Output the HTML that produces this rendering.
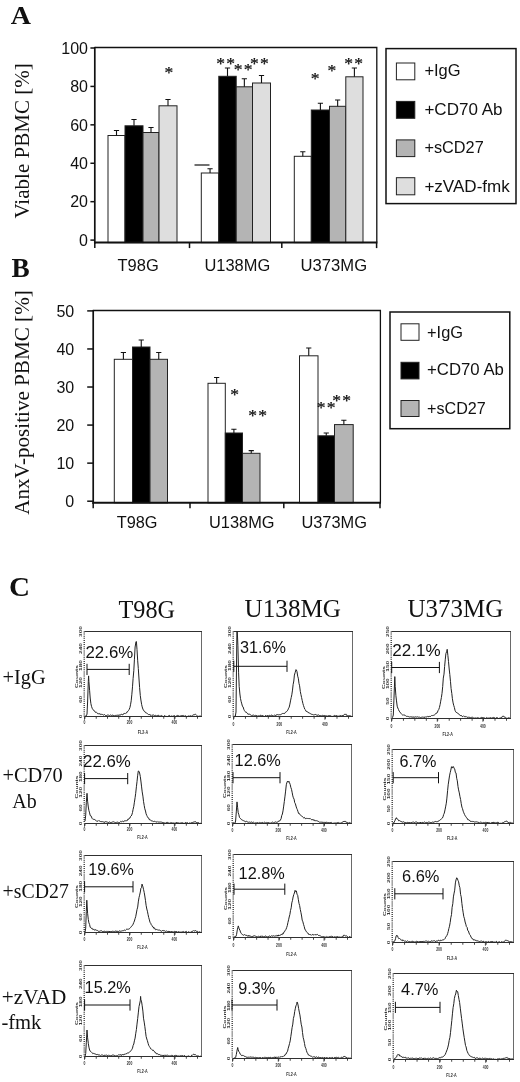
<!DOCTYPE html>
<html lang="en">
<head>
<meta charset="utf-8">
<title>Figure: CD70 / CD27 PBMC viability</title>
<style>
html,body{margin:0;padding:0;background:#fff;}
body{width:520px;height:1082px;overflow:hidden;}
svg{display:block;}
.sa{font-family:'Liberation Sans', Arial, sans-serif;fill:#111;}
.se{font-family:'Liberation Serif', 'Times New Roman', serif;fill:#111;}
.ti{font-family:'Liberation Sans', Arial, sans-serif;font-size:4.3px;font-weight:bold;fill:#333;}
.tx{font-family:'Liberation Sans', Arial, sans-serif;font-size:5.4px;font-weight:bold;fill:#333;}
</style>
</head>
<body>
<svg width="520" height="1082" viewBox="0 0 520 1082">
<rect width="520" height="1082" fill="#fff"/>
<path d="M94.8 47.5H376.8V242.6" fill="none" stroke="#111" stroke-width="1.3"/>
<rect x="108.00" y="135.50" width="17.00" height="107.10" fill="#ffffff" stroke="#222" stroke-width="1"/>
<path d="M116.50 135.50V130.50M113.90 130.50H119.10" stroke="#111" stroke-width="1.1" fill="none"/>
<rect x="125.00" y="125.80" width="18.00" height="116.80" fill="#000000" stroke="#222" stroke-width="1"/>
<path d="M134.00 125.80V119.50M131.40 119.50H136.60" stroke="#111" stroke-width="1.1" fill="none"/>
<rect x="143.00" y="132.50" width="16.00" height="110.10" fill="#b4b4b4" stroke="#222" stroke-width="1"/>
<path d="M151.00 132.50V127.50M148.40 127.50H153.60" stroke="#111" stroke-width="1.1" fill="none"/>
<rect x="159.00" y="105.80" width="18.00" height="136.80" fill="#dedede" stroke="#222" stroke-width="1"/>
<path d="M168.00 105.80V99.50M165.40 99.50H170.60" stroke="#111" stroke-width="1.1" fill="none"/>
<rect x="201.30" y="173.00" width="17.50" height="69.60" fill="#ffffff" stroke="#222" stroke-width="1"/>
<path d="M210.05 173.00V168.80M207.45 168.80H212.65" stroke="#111" stroke-width="1.1" fill="none"/>
<rect x="218.80" y="76.30" width="17.40" height="166.30" fill="#000000" stroke="#222" stroke-width="1"/>
<path d="M227.50 76.30V68.00M224.90 68.00H230.10" stroke="#111" stroke-width="1.1" fill="none"/>
<rect x="236.20" y="86.80" width="16.30" height="155.80" fill="#b4b4b4" stroke="#222" stroke-width="1"/>
<path d="M244.35 86.80V78.80M241.75 78.80H246.95" stroke="#111" stroke-width="1.1" fill="none"/>
<rect x="252.50" y="83.00" width="18.00" height="159.60" fill="#dedede" stroke="#222" stroke-width="1"/>
<path d="M261.50 83.00V75.50M258.90 75.50H264.10" stroke="#111" stroke-width="1.1" fill="none"/>
<rect x="294.30" y="156.30" width="17.00" height="86.30" fill="#ffffff" stroke="#222" stroke-width="1"/>
<path d="M302.80 156.30V151.80M300.20 151.80H305.40" stroke="#111" stroke-width="1.1" fill="none"/>
<rect x="311.30" y="110.00" width="18.20" height="132.60" fill="#000000" stroke="#222" stroke-width="1"/>
<path d="M320.40 110.00V103.30M317.80 103.30H323.00" stroke="#111" stroke-width="1.1" fill="none"/>
<rect x="329.50" y="106.30" width="16.30" height="136.30" fill="#b4b4b4" stroke="#222" stroke-width="1"/>
<path d="M337.65 106.30V100.00M335.05 100.00H340.25" stroke="#111" stroke-width="1.1" fill="none"/>
<rect x="345.80" y="76.80" width="17.20" height="165.80" fill="#dedede" stroke="#222" stroke-width="1"/>
<path d="M354.40 76.80V68.00M351.80 68.00H357.00" stroke="#111" stroke-width="1.1" fill="none"/>
<path d="M94.8 46.9V243.6" stroke="#111" stroke-width="1.7" fill="none"/>
<path d="M94.0 242.6H377.40000000000003" stroke="#111" stroke-width="2" fill="none"/>
<path d="M90.4 48.00H94.8" stroke="#111" stroke-width="1.5"/>
<text class="sa" x="88.0" y="53.7" font-size="16" text-anchor="end">100</text>
<path d="M90.4 86.42H94.8" stroke="#111" stroke-width="1.5"/>
<text class="sa" x="88.0" y="92.1" font-size="16" text-anchor="end">80</text>
<path d="M90.4 124.84H94.8" stroke="#111" stroke-width="1.5"/>
<text class="sa" x="88.0" y="130.5" font-size="16" text-anchor="end">60</text>
<path d="M90.4 163.26H94.8" stroke="#111" stroke-width="1.5"/>
<text class="sa" x="88.0" y="169.0" font-size="16" text-anchor="end">40</text>
<path d="M90.4 201.68H94.8" stroke="#111" stroke-width="1.5"/>
<text class="sa" x="88.0" y="207.4" font-size="16" text-anchor="end">20</text>
<path d="M90.4 240.10H94.8" stroke="#111" stroke-width="1.5"/>
<text class="sa" x="88.0" y="245.8" font-size="16" text-anchor="end">0</text>
<path d="M94.8 242.6V248.1" stroke="#111" stroke-width="1.5"/>
<path d="M189.5 242.6V248.1" stroke="#111" stroke-width="1.5"/>
<path d="M281.8 242.6V248.1" stroke="#111" stroke-width="1.5"/>
<path d="M376.6 242.6V248.1" stroke="#111" stroke-width="1.5"/>
<text class="sa" x="117.5" y="270.9" font-size="16" textLength="41.2" lengthAdjust="spacingAndGlyphs">T98G</text>
<text class="sa" x="204.5" y="270.9" font-size="16" textLength="65.7" lengthAdjust="spacingAndGlyphs">U138MG</text>
<text class="sa" x="300.6" y="270.9" font-size="16" textLength="66.5" lengthAdjust="spacingAndGlyphs">U373MG</text>
<text class="se" x="168.8" y="77.7" font-size="17.5" text-anchor="middle" stroke="#111" stroke-width="0.25">*</text>
<text class="se" x="226.3" y="68.9" font-size="17.5" text-anchor="middle" letter-spacing="1.3" stroke="#111" stroke-width="0.25">**</text>
<text class="se" x="243.7" y="74.9" font-size="17.5" text-anchor="middle" letter-spacing="1.3" stroke="#111" stroke-width="0.25">**</text>
<text class="se" x="260.0" y="68.9" font-size="17.5" text-anchor="middle" letter-spacing="1.3" stroke="#111" stroke-width="0.25">**</text>
<text class="se" x="315.0" y="84.4" font-size="17.5" text-anchor="middle" stroke="#111" stroke-width="0.25">*</text>
<text class="se" x="331.8" y="76.4" font-size="17.5" text-anchor="middle" stroke="#111" stroke-width="0.25">*</text>
<text class="se" x="354.2" y="68.9" font-size="17.5" text-anchor="middle" letter-spacing="1.3" stroke="#111" stroke-width="0.25">**</text>
<path d="M194.5 165H209.5" stroke="#111" stroke-width="1.2"/>
<path d="M93.2 310.5H380.4V502.8" fill="none" stroke="#111" stroke-width="1.3"/>
<rect x="114.30" y="359.30" width="18.20" height="143.50" fill="#ffffff" stroke="#222" stroke-width="1"/>
<path d="M123.40 359.30V352.50M120.80 352.50H126.00" stroke="#111" stroke-width="1.1" fill="none"/>
<rect x="132.50" y="347.00" width="17.50" height="155.80" fill="#000000" stroke="#222" stroke-width="1"/>
<path d="M141.25 347.00V340.00M138.65 340.00H143.85" stroke="#111" stroke-width="1.1" fill="none"/>
<rect x="150.00" y="359.30" width="17.50" height="143.50" fill="#b4b4b4" stroke="#222" stroke-width="1"/>
<path d="M158.75 359.30V352.50M156.15 352.50H161.35" stroke="#111" stroke-width="1.1" fill="none"/>
<rect x="208.00" y="383.30" width="17.30" height="119.50" fill="#ffffff" stroke="#222" stroke-width="1"/>
<path d="M216.65 383.30V377.50M214.05 377.50H219.25" stroke="#111" stroke-width="1.1" fill="none"/>
<rect x="225.30" y="433.00" width="17.20" height="69.80" fill="#000000" stroke="#222" stroke-width="1"/>
<path d="M233.90 433.00V429.30M231.30 429.30H236.50" stroke="#111" stroke-width="1.1" fill="none"/>
<rect x="242.50" y="453.30" width="17.50" height="49.50" fill="#b4b4b4" stroke="#222" stroke-width="1"/>
<path d="M251.25 453.30V450.60M248.65 450.60H253.85" stroke="#111" stroke-width="1.1" fill="none"/>
<rect x="299.50" y="355.80" width="18.50" height="147.00" fill="#ffffff" stroke="#222" stroke-width="1"/>
<path d="M308.75 355.80V348.00M306.15 348.00H311.35" stroke="#111" stroke-width="1.1" fill="none"/>
<rect x="318.00" y="435.80" width="16.50" height="67.00" fill="#000000" stroke="#222" stroke-width="1"/>
<path d="M326.25 435.80V433.00M323.65 433.00H328.85" stroke="#111" stroke-width="1.1" fill="none"/>
<rect x="334.50" y="424.60" width="18.70" height="78.20" fill="#b4b4b4" stroke="#222" stroke-width="1"/>
<path d="M343.85 424.60V420.20M341.25 420.20H346.45" stroke="#111" stroke-width="1.1" fill="none"/>
<path d="M93.2 309.9V503.8" stroke="#111" stroke-width="1.7" fill="none"/>
<path d="M92.4 502.8H381.0" stroke="#111" stroke-width="2" fill="none"/>
<path d="M87.2 310.90H93.2" stroke="#111" stroke-width="1.5"/>
<text class="sa" x="74.2" y="316.6" font-size="16" text-anchor="end">50</text>
<path d="M87.2 348.96H93.2" stroke="#111" stroke-width="1.5"/>
<text class="sa" x="74.2" y="354.7" font-size="16" text-anchor="end">40</text>
<path d="M87.2 387.02H93.2" stroke="#111" stroke-width="1.5"/>
<text class="sa" x="74.2" y="392.7" font-size="16" text-anchor="end">30</text>
<path d="M87.2 425.08H93.2" stroke="#111" stroke-width="1.5"/>
<text class="sa" x="74.2" y="430.8" font-size="16" text-anchor="end">20</text>
<path d="M87.2 463.14H93.2" stroke="#111" stroke-width="1.5"/>
<text class="sa" x="74.2" y="468.8" font-size="16" text-anchor="end">10</text>
<path d="M87.2 501.20H93.2" stroke="#111" stroke-width="1.5"/>
<text class="sa" x="74.2" y="506.9" font-size="16" text-anchor="end">0</text>
<path d="M93.2 502.8V508.3" stroke="#111" stroke-width="1.5"/>
<path d="M190 502.8V508.3" stroke="#111" stroke-width="1.5"/>
<path d="M283.8 502.8V508.3" stroke="#111" stroke-width="1.5"/>
<path d="M380 502.8V508.3" stroke="#111" stroke-width="1.5"/>
<text class="sa" x="116.7" y="527.9" font-size="16" textLength="40.7" lengthAdjust="spacingAndGlyphs">T98G</text>
<text class="sa" x="209.0" y="527.9" font-size="16" textLength="65.5" lengthAdjust="spacingAndGlyphs">U138MG</text>
<text class="sa" x="301.4" y="527.9" font-size="16" textLength="65.6" lengthAdjust="spacingAndGlyphs">U373MG</text>
<text class="se" x="234.5" y="399.9" font-size="17.5" text-anchor="middle" stroke="#111" stroke-width="0.25">*</text>
<text class="se" x="258.2" y="421.2" font-size="17.5" text-anchor="middle" letter-spacing="1.3" stroke="#111" stroke-width="0.25">**</text>
<text class="se" x="326.7" y="412.7" font-size="17.5" text-anchor="middle" letter-spacing="1.3" stroke="#111" stroke-width="0.25">**</text>
<text class="se" x="342.2" y="406.2" font-size="17.5" text-anchor="middle" letter-spacing="1.3" stroke="#111" stroke-width="0.25">**</text>
<text class="se" x="10.8" y="24.2" font-size="26" font-weight="bold" textLength="20.2" lengthAdjust="spacingAndGlyphs">A</text>
<text class="se" x="11.6" y="277.0" font-size="27" font-weight="bold" textLength="18.2" lengthAdjust="spacingAndGlyphs">B</text>
<text class="se" x="9.0" y="595.9" font-size="28" font-weight="bold" textLength="21.0" lengthAdjust="spacingAndGlyphs">C</text>
<text class="se" font-size="21" transform="translate(28.9,218.6) rotate(-90)" textLength="155.4" lengthAdjust="spacingAndGlyphs">Viable PBMC [%]</text>
<text class="se" font-size="21" transform="translate(28.6,514.8) rotate(-90)" textLength="224.6" lengthAdjust="spacingAndGlyphs">AnxV-positive PBMC [%]</text>
<rect x="386" y="48.6" width="130" height="155.0" fill="#fff" stroke="#111" stroke-width="1.5"/>
<rect x="396.4" y="63" width="18.4" height="16.8" fill="#ffffff" stroke="#222" stroke-width="1"/>
<text class="sa" x="424.4" y="76.3" font-size="16.5" textLength="36.2" lengthAdjust="spacingAndGlyphs">+IgG</text>
<rect x="396.4" y="101.4" width="18.4" height="16.9" fill="#000000" stroke="#222" stroke-width="1"/>
<text class="sa" x="424.4" y="114.8" font-size="16.5" textLength="78.1" lengthAdjust="spacingAndGlyphs">+CD70 Ab</text>
<rect x="396.4" y="139.9" width="18.4" height="16.7" fill="#b4b4b4" stroke="#222" stroke-width="1"/>
<text class="sa" x="424.4" y="153.3" font-size="16.5" textLength="59.3" lengthAdjust="spacingAndGlyphs">+sCD27</text>
<rect x="396.4" y="177.7" width="18.4" height="17.1" fill="#dedede" stroke="#222" stroke-width="1"/>
<text class="sa" x="424.4" y="191.5" font-size="16.5" textLength="85.4" lengthAdjust="spacingAndGlyphs">+zVAD-fmk</text>
<rect x="390" y="312" width="119.80000000000001" height="116.69999999999999" fill="#fff" stroke="#111" stroke-width="1.5"/>
<rect x="401" y="323.8" width="18" height="16.5" fill="#ffffff" stroke="#222" stroke-width="1"/>
<text class="sa" x="427.0" y="338.0" font-size="16.5" textLength="36.0" lengthAdjust="spacingAndGlyphs">+IgG</text>
<rect x="401" y="362.3" width="18" height="16.6" fill="#000000" stroke="#222" stroke-width="1"/>
<text class="sa" x="427.0" y="375.4" font-size="16.5" textLength="76.9" lengthAdjust="spacingAndGlyphs">+CD70 Ab</text>
<rect x="401" y="400.5" width="18" height="16.0" fill="#b4b4b4" stroke="#222" stroke-width="1"/>
<text class="sa" x="427.0" y="413.9" font-size="16.5" textLength="58.8" lengthAdjust="spacingAndGlyphs">+sCD27</text>
<text class="se" x="118.5" y="617.6" font-size="24.6" textLength="56.5" lengthAdjust="spacingAndGlyphs">T98G</text>
<text class="se" x="244.6" y="616.9" font-size="24.6" textLength="96.4" lengthAdjust="spacingAndGlyphs">U138MG</text>
<text class="se" x="407.6" y="616.9" font-size="24.6" textLength="95.6" lengthAdjust="spacingAndGlyphs">U373MG</text>
<text class="se" x="2.6" y="683.5" font-size="20.5" textLength="43.2" lengthAdjust="spacingAndGlyphs">+IgG</text>
<text class="se" x="2.6" y="782.3" font-size="20.5" textLength="60.0" lengthAdjust="spacingAndGlyphs">+CD70</text>
<text class="se" x="12.3" y="808.3" font-size="20.5" textLength="24.4" lengthAdjust="spacingAndGlyphs">Ab</text>
<text class="se" x="2.6" y="897.7" font-size="20.5" textLength="66.2" lengthAdjust="spacingAndGlyphs">+sCD27</text>
<text class="se" x="1.8" y="1004.2" font-size="20.5" textLength="64.6" lengthAdjust="spacingAndGlyphs">+zVAD</text>
<text class="se" x="1.4" y="1029.2" font-size="20.5" textLength="40.0" lengthAdjust="spacingAndGlyphs">-fmk</text>
<path d="M201.5 631.5V716.5" fill="none" stroke="#6a6a6a" stroke-width="1"/>
<path d="M84.5 631.5H202.0M84.5 716.5H202.0" fill="none" stroke="#303030" stroke-width="1"/>
<path d="M84.2 631.5V716.5" stroke="#2a2a2a" stroke-width="1.3" stroke-dasharray="1 1.1" fill="none"/>
<path d="M84.5 717.7H201.5" stroke="#333" stroke-width="2" stroke-dasharray="0.9 10.36" fill="none"/>
<path d="M85.0 716.0 L85.7 716.1 L86.3 715.8 L87.0 714.1 L87.6 702.0 L88.3 681.6 L88.6 675.9 L88.9 681.6 L89.6 690.3 L90.2 698.0 L90.9 703.7 L91.5 706.3 L92.2 708.3 L92.8 709.5 L93.5 709.9 L94.1 710.9 L94.8 711.4 L95.4 712.4 L96.1 711.8 L96.7 712.5 L97.4 713.5 L98.0 714.0 L98.7 713.7 L99.3 713.9 L100.0 713.5 L100.6 714.6 L101.3 714.3 L101.9 714.5 L102.6 714.5 L103.2 715.0 L103.9 715.0 L104.5 714.5 L105.2 715.3 L105.8 715.6 L106.5 715.5 L107.1 715.2 L107.8 715.0 L108.4 715.1 L109.1 715.4 L109.7 715.6 L110.4 715.0 L111.0 715.0 L111.7 715.6 L112.3 715.3 L113.0 714.9 L113.6 715.8 L114.3 715.6 L114.9 716.0 L115.6 715.3 L116.2 715.3 L116.9 715.4 L117.5 715.3 L118.2 714.8 L118.8 715.7 L119.5 714.7 L120.1 715.4 L120.8 714.4 L121.4 714.3 L122.1 714.5 L122.7 715.0 L123.4 713.8 L124.0 713.8 L124.7 713.4 L125.3 713.6 L126.0 712.8 L126.6 713.0 L127.3 711.5 L127.9 711.4 L128.6 710.4 L129.2 709.4 L129.9 707.6 L130.5 704.8 L131.2 700.8 L131.8 694.8 L132.5 686.8 L133.1 678.5 L133.8 670.7 L134.4 659.8 L135.1 647.0 L136.0 641.6 L136.4 641.6 L137.0 649.5 L137.7 660.8 L138.3 668.5 L139.0 679.0 L139.6 687.5 L140.3 695.6 L140.9 700.0 L141.6 704.3 L142.2 706.9 L142.9 709.1 L143.5 710.2 L144.2 711.3 L144.8 711.4 L145.5 712.7 L146.1 713.0 L146.8 713.1 L147.4 713.6 L148.1 714.1 L148.7 714.7 L149.4 714.6 L150.0 714.3 L150.7 715.5 L151.3 714.9 L152.0 715.6 L152.6 715.1 L153.3 714.9 L153.9 715.3 L154.6 715.6 L155.2 715.1 L155.9 715.8 L156.5 715.9 L157.2 715.7 L157.8 715.3 L158.5 715.2 L159.1 716.2 L159.8 716.1 L160.4 716.0 L161.1 715.9 L161.7 715.5 L162.4 715.9 L163.0 716.5 L163.7 716.5 L164.3 715.8 L165.0 715.6 L165.6 716.4 L166.3 716.5 L166.9 716.3 L167.6 716.5 L168.2 716.0 L168.9 715.8 L169.5 715.4 L170.2 716.4 L170.8 716.4 L171.5 716.0 L172.1 716.4 L172.8 716.2 L173.4 716.0 L174.1 715.7 L174.7 715.7 L175.4 716.5 L176.0 715.8 L176.7 716.1 L177.3 715.5 L178.0 715.9 L178.6 715.7 L179.3 716.1 L179.9 716.4 L180.6 715.7 L181.2 715.8 L181.9 715.6 L182.5 715.5 L183.2 715.7 L183.8 715.6 L184.5 716.2 L185.1 716.1 L185.8 715.7 L186.4 716.6 L187.1 716.6 L187.7 716.4 L188.4 715.7 L189.0 716.5 L189.7 715.8 L190.3 715.8 L191.0 715.9 L191.6 716.3 L192.3 715.5 L192.9 714.9 L193.6 714.8 L194.2 714.5 L194.9 714.8 L195.5 714.3 L196.2 714.8 L196.8 715.5 L197.5 716.2 L198.1 716.0 L198.8 716.6 L199.4 716.0 L200.1 715.7 L200.7 716.1" fill="none" stroke="#222" stroke-width="1" stroke-linejoin="round"/>
<path d="M87.0 669.4H129.2M87.0 663.8V675.0M129.2 663.8V675.0" stroke="#111" stroke-width="1" fill="none"/>
<text class="sa" x="85.5" y="658.3" font-size="17" textLength="47.7" lengthAdjust="spacingAndGlyphs">22.6%</text>
<text class="ti" transform="translate(81.8,718.3) rotate(-90)" textLength="3.6" lengthAdjust="spacingAndGlyphs">0</text>
<text class="ti" transform="translate(81.8,703.1) rotate(-90)" textLength="7.2" lengthAdjust="spacingAndGlyphs">60</text>
<text class="ti" transform="translate(81.8,687.9) rotate(-90)" textLength="10.8" lengthAdjust="spacingAndGlyphs">120</text>
<text class="ti" transform="translate(81.8,670.9) rotate(-90)" textLength="10.8" lengthAdjust="spacingAndGlyphs">180</text>
<text class="ti" transform="translate(81.8,653.9) rotate(-90)" textLength="10.8" lengthAdjust="spacingAndGlyphs">240</text>
<text class="ti" transform="translate(81.8,636.9) rotate(-90)" textLength="10.8" lengthAdjust="spacingAndGlyphs">300</text>
<text class="ti" transform="translate(77.9,688.0) rotate(-90)" textLength="23" lengthAdjust="spacingAndGlyphs">Counts</text>
<path d="M84.5 716.5v3.2M129.5 716.5v3.2M174.4 716.5v3.2" stroke="#333" stroke-width="0.9" fill="none"/>
<text class="tx" x="83.5" y="724.0" textLength="1.9" lengthAdjust="spacingAndGlyphs">0</text>
<text class="tx" x="126.7" y="724.0" textLength="5.7" lengthAdjust="spacingAndGlyphs">200</text>
<text class="tx" x="171.5" y="724.0" textLength="5.7" lengthAdjust="spacingAndGlyphs">400</text>
<text class="tx" x="137.8" y="734.2" textLength="10.4" lengthAdjust="spacingAndGlyphs">FL2-A</text>
<path d="M352.5 631.5V716.5" fill="none" stroke="#6a6a6a" stroke-width="1"/>
<path d="M233.5 631.5H353.0M233.5 716.5H353.0" fill="none" stroke="#303030" stroke-width="1"/>
<path d="M233.2 631.5V716.5" stroke="#2a2a2a" stroke-width="1.3" stroke-dasharray="1 1.1" fill="none"/>
<path d="M233.5 717.7H352.5" stroke="#333" stroke-width="2" stroke-dasharray="0.9 10.55" fill="none"/>
<path d="M234.0 715.9 L234.7 716.5 L235.3 716.2 L236.0 712.0 L236.9 631.5 L237.3 631.5 L237.9 645.8 L238.6 672.8 L239.2 686.6 L239.9 694.0 L240.5 698.6 L241.2 701.7 L241.8 703.9 L242.5 706.5 L243.1 706.8 L243.8 709.3 L244.4 710.5 L245.1 711.4 L245.7 712.3 L246.4 712.2 L247.0 713.2 L247.7 713.6 L248.3 714.5 L249.0 713.7 L249.6 714.3 L250.3 715.0 L250.9 714.8 L251.6 715.5 L252.2 715.3 L252.9 715.4 L253.5 715.1 L254.2 715.6 L254.8 715.7 L255.5 715.4 L256.1 715.7 L256.8 715.5 L257.4 716.1 L258.1 715.7 L258.7 715.9 L259.4 716.1 L260.0 715.3 L260.7 715.3 L261.3 715.4 L261.9 716.3 L262.6 715.4 L263.2 716.2 L263.9 716.1 L264.5 716.5 L265.2 715.7 L265.8 715.3 L266.5 716.4 L267.1 715.5 L267.8 715.6 L268.4 715.8 L269.1 715.6 L269.7 715.2 L270.4 716.1 L271.0 715.3 L271.7 715.1 L272.3 715.4 L273.0 715.9 L273.6 715.9 L274.3 715.3 L274.9 715.0 L275.6 715.7 L276.2 714.7 L276.9 715.1 L277.5 714.6 L278.2 715.1 L278.8 714.5 L279.5 714.7 L280.1 714.9 L280.8 714.5 L281.4 714.2 L282.1 713.8 L282.7 713.4 L283.4 713.4 L284.0 714.0 L284.7 713.4 L285.3 712.4 L286.0 712.0 L286.6 711.6 L287.3 710.8 L287.9 709.9 L288.6 708.2 L289.2 707.2 L289.9 704.1 L290.5 700.9 L291.2 697.6 L291.8 694.8 L292.5 690.1 L293.1 684.7 L293.8 681.0 L294.4 675.1 L295.1 672.7 L296.0 669.6 L296.4 670.0 L297.0 671.7 L297.7 676.2 L298.3 678.2 L299.0 683.5 L299.6 685.8 L300.3 691.4 L300.9 694.4 L301.6 697.6 L302.2 700.4 L302.9 703.5 L303.5 705.6 L304.2 707.5 L304.8 709.3 L305.5 709.9 L306.1 711.4 L306.8 711.6 L307.4 711.8 L308.1 712.1 L308.7 713.0 L309.4 713.1 L310.0 713.3 L310.7 713.8 L311.3 714.2 L312.0 714.3 L312.6 714.5 L313.3 714.8 L313.9 714.9 L314.6 714.7 L315.2 714.5 L315.9 714.5 L316.5 714.8 L317.2 715.6 L317.8 714.8 L318.5 714.8 L319.1 715.6 L319.8 715.8 L320.4 715.2 L321.1 715.9 L321.7 715.8 L322.4 715.4 L323.0 715.4 L323.7 715.7 L324.3 715.5 L325.0 715.7 L325.6 715.8 L326.3 715.9 L326.9 715.8 L327.6 716.1 L328.2 715.8 L328.9 715.6 L329.5 715.6 L330.2 716.0 L330.8 715.6 L331.5 716.3 L332.1 716.4 L332.8 716.4 L333.4 716.2 L334.1 715.7 L334.7 715.4 L335.4 715.6 L336.0 716.5 L336.7 715.4 L337.3 716.3 L338.0 716.1 L338.6 716.2 L339.3 716.5 L339.9 715.4 L340.6 715.7 L341.2 716.1 L341.9 715.4 L342.5 715.5 L343.2 715.8 L343.8 714.8 L344.5 714.4 L345.1 714.7 L345.8 713.9 L346.4 715.2 L347.1 715.2 L347.7 715.9 L348.4 715.7 L349.0 715.9 L349.7 715.7 L350.3 716.1 L351.0 715.7 L351.6 716.4" fill="none" stroke="#222" stroke-width="1" stroke-linejoin="round"/>
<path d="M233.8 666.3H287.0M233.8 660.7V671.9M287.0 660.7V671.9" stroke="#111" stroke-width="1" fill="none"/>
<text class="sa" x="240.0" y="652.5" font-size="17" textLength="46.0" lengthAdjust="spacingAndGlyphs">31.6%</text>
<text class="ti" transform="translate(230.8,718.3) rotate(-90)" textLength="3.6" lengthAdjust="spacingAndGlyphs">0</text>
<text class="ti" transform="translate(230.8,703.1) rotate(-90)" textLength="7.2" lengthAdjust="spacingAndGlyphs">60</text>
<text class="ti" transform="translate(230.8,687.9) rotate(-90)" textLength="10.8" lengthAdjust="spacingAndGlyphs">120</text>
<text class="ti" transform="translate(230.8,670.9) rotate(-90)" textLength="10.8" lengthAdjust="spacingAndGlyphs">180</text>
<text class="ti" transform="translate(230.8,653.9) rotate(-90)" textLength="10.8" lengthAdjust="spacingAndGlyphs">240</text>
<text class="ti" transform="translate(230.8,636.9) rotate(-90)" textLength="10.8" lengthAdjust="spacingAndGlyphs">300</text>
<text class="ti" transform="translate(226.9,688.0) rotate(-90)" textLength="23" lengthAdjust="spacingAndGlyphs">Counts</text>
<path d="M233.5 716.5v3.2M279.3 716.5v3.2M324.9 716.5v3.2" stroke="#333" stroke-width="0.9" fill="none"/>
<text class="tx" x="232.6" y="725.7" textLength="1.9" lengthAdjust="spacingAndGlyphs">0</text>
<text class="tx" x="276.5" y="725.7" textLength="5.7" lengthAdjust="spacingAndGlyphs">200</text>
<text class="tx" x="322.0" y="725.7" textLength="5.7" lengthAdjust="spacingAndGlyphs">400</text>
<text class="tx" x="286.3" y="733.5" textLength="10.4" lengthAdjust="spacingAndGlyphs">FL2-A</text>
<path d="M510.5 631.5V718.5" fill="none" stroke="#6a6a6a" stroke-width="1"/>
<path d="M391.5 631.5H511.0M391.5 718.5H511.0" fill="none" stroke="#303030" stroke-width="1"/>
<path d="M391.2 631.5V718.5" stroke="#2a2a2a" stroke-width="1.3" stroke-dasharray="1 1.1" fill="none"/>
<path d="M391.5 719.7H510.5" stroke="#333" stroke-width="2" stroke-dasharray="0.9 10.55" fill="none"/>
<path d="M392.0 717.8 L392.6 717.4 L393.3 715.0 L393.9 700.2 L394.8 676.6 L395.2 686.3 L395.9 695.7 L396.5 700.9 L397.2 706.2 L397.8 708.0 L398.5 709.5 L399.1 711.0 L399.8 711.9 L400.4 712.8 L401.1 713.4 L401.7 714.2 L402.4 714.7 L403.0 715.4 L403.7 714.7 L404.3 715.1 L405.0 715.3 L405.6 715.7 L406.3 716.4 L406.9 716.2 L407.6 716.4 L408.2 716.6 L408.9 716.6 L409.5 717.0 L410.2 717.0 L410.8 716.7 L411.5 717.0 L412.1 716.5 L412.8 717.5 L413.4 716.7 L414.1 717.6 L414.7 716.8 L415.4 716.9 L416.0 716.9 L416.7 717.1 L417.3 716.8 L418.0 717.1 L418.6 717.2 L419.3 717.2 L419.9 717.1 L420.6 717.6 L421.2 717.1 L421.9 717.7 L422.5 717.1 L423.2 717.2 L423.8 717.3 L424.5 717.7 L425.1 716.6 L425.8 717.3 L426.4 716.9 L427.1 717.0 L427.7 716.4 L428.4 716.9 L429.0 716.0 L429.7 716.5 L430.3 716.5 L431.0 716.2 L431.6 715.5 L432.3 715.5 L432.9 715.6 L433.6 715.3 L434.2 715.1 L434.9 714.6 L435.5 714.1 L436.2 713.1 L436.8 713.2 L437.5 712.0 L438.1 710.5 L438.8 709.4 L439.4 707.6 L440.1 704.6 L440.7 701.2 L441.4 697.5 L442.0 693.4 L442.7 686.6 L443.3 678.1 L444.0 674.1 L444.6 666.6 L445.3 659.2 L445.9 653.6 L446.8 651.2 L447.2 649.3 L447.9 655.6 L448.5 661.6 L449.2 669.0 L449.8 674.4 L450.5 681.7 L451.1 688.6 L451.8 693.5 L452.4 698.7 L453.1 702.9 L453.7 705.3 L454.4 707.5 L455.0 710.3 L455.7 711.8 L456.3 712.5 L457.0 712.4 L457.6 713.0 L458.3 714.0 L458.9 714.2 L459.6 714.7 L460.2 715.6 L460.9 715.5 L461.5 715.5 L462.2 716.6 L462.8 716.6 L463.5 715.9 L464.1 716.2 L464.8 716.8 L465.4 716.5 L466.1 717.2 L466.7 716.6 L467.4 717.5 L468.0 717.3 L468.7 717.2 L469.3 717.0 L470.0 717.9 L470.6 717.7 L471.3 717.5 L471.9 717.2 L472.6 717.3 L473.2 717.7 L473.9 718.2 L474.5 718.1 L475.2 718.1 L475.8 717.8 L476.5 718.1 L477.1 717.7 L477.8 717.8 L478.4 717.9 L479.1 718.0 L479.7 718.4 L480.4 718.0 L481.0 717.6 L481.7 717.4 L482.3 717.5 L483.0 717.7 L483.6 717.7 L484.3 718.2 L484.9 717.7 L485.6 718.5 L486.2 717.8 L486.9 717.6 L487.5 718.1 L488.2 718.0 L488.8 718.1 L489.5 718.0 L490.1 718.2 L490.8 717.5 L491.4 718.1 L492.1 718.0 L492.7 717.6 L493.4 717.4 L494.0 718.1 L494.7 717.7 L495.3 718.4 L496.0 718.2 L496.6 717.5 L497.3 717.5 L497.9 718.4 L498.6 718.5 L499.2 718.4 L499.9 718.0 L500.5 718.2 L501.2 717.2 L501.8 717.5 L502.5 716.3 L503.1 716.3 L503.8 716.2 L504.4 717.2 L505.1 717.1 L505.7 717.6 L506.4 718.2 L507.0 718.0 L507.7 718.3 L508.3 717.9 L509.0 717.6 L509.6 717.8" fill="none" stroke="#222" stroke-width="1" stroke-linejoin="round"/>
<path d="M391.7 667.5H439.4M391.7 661.9V673.1M439.4 661.9V673.1" stroke="#111" stroke-width="1" fill="none"/>
<text class="sa" x="392.3" y="655.5" font-size="17" textLength="48.3" lengthAdjust="spacingAndGlyphs">22.1%</text>
<text class="ti" transform="translate(388.8,720.3) rotate(-90)" textLength="3.6" lengthAdjust="spacingAndGlyphs">0</text>
<text class="ti" transform="translate(388.8,704.7) rotate(-90)" textLength="7.2" lengthAdjust="spacingAndGlyphs">50</text>
<text class="ti" transform="translate(388.8,689.1) rotate(-90)" textLength="10.8" lengthAdjust="spacingAndGlyphs">100</text>
<text class="ti" transform="translate(388.8,671.7) rotate(-90)" textLength="10.8" lengthAdjust="spacingAndGlyphs">150</text>
<text class="ti" transform="translate(388.8,654.3) rotate(-90)" textLength="10.8" lengthAdjust="spacingAndGlyphs">200</text>
<text class="ti" transform="translate(388.8,636.9) rotate(-90)" textLength="10.8" lengthAdjust="spacingAndGlyphs">250</text>
<text class="ti" transform="translate(384.9,689.0) rotate(-90)" textLength="23" lengthAdjust="spacingAndGlyphs">Counts</text>
<path d="M391.5 718.5v3.2M437.3 718.5v3.2M482.9 718.5v3.2" stroke="#333" stroke-width="0.9" fill="none"/>
<text class="tx" x="390.6" y="727.5" textLength="1.9" lengthAdjust="spacingAndGlyphs">0</text>
<text class="tx" x="434.5" y="727.5" textLength="5.7" lengthAdjust="spacingAndGlyphs">200</text>
<text class="tx" x="480.0" y="727.5" textLength="5.7" lengthAdjust="spacingAndGlyphs">400</text>
<text class="tx" x="442.5" y="736.0" textLength="10.4" lengthAdjust="spacingAndGlyphs">FL2-A</text>
<path d="M201.5 745.5V823.5" fill="none" stroke="#6a6a6a" stroke-width="1"/>
<path d="M84.5 745.5H202.0M84.5 823.5H202.0" fill="none" stroke="#303030" stroke-width="1"/>
<path d="M84.2 745.5V823.5" stroke="#2a2a2a" stroke-width="1.3" stroke-dasharray="1 1.1" fill="none"/>
<path d="M84.5 824.7H201.5" stroke="#333" stroke-width="2" stroke-dasharray="0.9 10.36" fill="none"/>
<path d="M85.0 821.2 L85.7 815.2 L86.3 802.7 L87.0 793.3 L87.6 801.2 L88.3 807.0 L88.9 810.5 L89.6 812.9 L90.2 815.5 L90.9 815.7 L91.5 817.0 L92.2 818.5 L92.8 819.2 L93.5 819.3 L94.1 819.4 L94.8 819.5 L95.4 820.2 L96.1 820.5 L96.7 821.3 L97.4 821.1 L98.0 821.3 L98.7 820.6 L99.3 820.9 L100.0 821.1 L100.6 821.6 L101.3 821.9 L101.9 821.2 L102.6 821.9 L103.2 822.0 L103.9 822.0 L104.5 822.5 L105.2 821.4 L105.8 822.1 L106.5 821.8 L107.1 822.1 L107.8 822.1 L108.4 822.7 L109.1 821.8 L109.7 822.2 L110.4 822.8 L111.0 822.0 L111.7 822.5 L112.3 822.1 L113.0 821.8 L113.6 821.8 L114.3 822.2 L114.9 822.3 L115.6 822.6 L116.2 822.7 L116.9 821.9 L117.5 822.2 L118.2 822.7 L118.8 822.4 L119.5 822.5 L120.1 822.2 L120.8 821.3 L121.4 821.8 L122.1 821.2 L122.7 821.3 L123.4 821.8 L124.0 820.9 L124.7 820.9 L125.3 820.8 L126.0 820.8 L126.6 820.7 L127.3 820.6 L127.9 819.1 L128.6 819.3 L129.2 818.2 L129.9 818.2 L130.5 816.5 L131.2 816.0 L131.8 814.9 L132.5 812.5 L133.1 809.3 L133.8 806.3 L134.4 802.2 L135.1 797.7 L135.7 793.3 L136.4 786.8 L137.0 781.7 L137.7 775.2 L138.3 771.0 L139.0 771.3 L139.6 773.0 L140.3 776.5 L140.9 781.0 L141.6 786.9 L142.2 791.9 L142.9 796.1 L143.5 801.3 L144.2 805.4 L144.8 808.8 L145.5 811.0 L146.1 813.8 L146.8 815.5 L147.4 816.7 L148.1 817.9 L148.7 818.1 L149.4 819.8 L150.0 819.4 L150.7 820.1 L151.3 821.0 L152.0 820.8 L152.6 821.1 L153.3 821.5 L153.9 821.5 L154.6 821.3 L155.2 821.4 L155.9 822.2 L156.5 822.0 L157.2 821.5 L157.8 822.2 L158.5 822.0 L159.1 822.0 L159.8 822.1 L160.4 822.0 L161.1 822.3 L161.7 822.1 L162.4 822.5 L163.0 822.1 L163.7 823.2 L164.3 822.9 L165.0 823.2 L165.6 823.3 L166.3 822.3 L166.9 822.8 L167.6 822.3 L168.2 823.2 L168.9 822.7 L169.5 823.2 L170.2 823.1 L170.8 822.5 L171.5 822.7 L172.1 822.8 L172.8 823.1 L173.4 823.0 L174.1 822.8 L174.7 823.3 L175.4 823.2 L176.0 822.4 L176.7 822.6 L177.3 822.7 L178.0 823.0 L178.6 822.9 L179.3 823.3 L179.9 822.9 L180.6 823.2 L181.2 822.5 L181.9 823.4 L182.5 822.6 L183.2 823.6 L183.8 823.1 L184.5 823.4 L185.1 822.6 L185.8 822.6 L186.4 822.9 L187.1 822.6 L187.7 822.7 L188.4 823.6 L189.0 822.9 L189.7 823.1 L190.3 823.2 L191.0 823.1 L191.6 822.6 L192.3 823.0 L192.9 822.2 L193.6 822.1 L194.2 822.1 L194.9 821.6 L195.5 821.6 L196.2 822.7 L196.8 822.5 L197.5 822.6 L198.1 822.9 L198.8 822.6 L199.4 823.6 L200.1 823.0 L200.7 823.4" fill="none" stroke="#222" stroke-width="1" stroke-linejoin="round"/>
<path d="M84.6 778.6H127.7M84.6 773.0V784.2M127.7 773.0V784.2" stroke="#111" stroke-width="1" fill="none"/>
<text class="sa" x="83.0" y="767.0" font-size="17" textLength="47.8" lengthAdjust="spacingAndGlyphs">22.6%</text>
<text class="ti" transform="translate(81.8,825.3) rotate(-90)" textLength="3.6" lengthAdjust="spacingAndGlyphs">0</text>
<text class="ti" transform="translate(81.8,811.5) rotate(-90)" textLength="7.2" lengthAdjust="spacingAndGlyphs">60</text>
<text class="ti" transform="translate(81.8,797.7) rotate(-90)" textLength="10.8" lengthAdjust="spacingAndGlyphs">120</text>
<text class="ti" transform="translate(81.8,782.1) rotate(-90)" textLength="10.8" lengthAdjust="spacingAndGlyphs">180</text>
<text class="ti" transform="translate(81.8,766.5) rotate(-90)" textLength="10.8" lengthAdjust="spacingAndGlyphs">240</text>
<text class="ti" transform="translate(81.8,750.9) rotate(-90)" textLength="10.8" lengthAdjust="spacingAndGlyphs">300</text>
<text class="ti" transform="translate(77.9,798.5) rotate(-90)" textLength="23" lengthAdjust="spacingAndGlyphs">Counts</text>
<path d="M84.5 823.5v3.2M129.5 823.5v3.2M174.4 823.5v3.2" stroke="#333" stroke-width="0.9" fill="none"/>
<text class="tx" x="83.5" y="831.0" textLength="1.9" lengthAdjust="spacingAndGlyphs">0</text>
<text class="tx" x="126.7" y="831.0" textLength="5.7" lengthAdjust="spacingAndGlyphs">200</text>
<text class="tx" x="171.5" y="831.0" textLength="5.7" lengthAdjust="spacingAndGlyphs">400</text>
<text class="tx" x="137.3" y="838.9" textLength="10.4" lengthAdjust="spacingAndGlyphs">FL2-A</text>
<path d="M351.5 744.5V823.5" fill="none" stroke="#6a6a6a" stroke-width="1"/>
<path d="M232.5 744.5H352.0M232.5 823.5H352.0" fill="none" stroke="#303030" stroke-width="1"/>
<path d="M232.2 744.5V823.5" stroke="#2a2a2a" stroke-width="1.3" stroke-dasharray="1 1.1" fill="none"/>
<path d="M232.5 824.7H351.5" stroke="#333" stroke-width="2" stroke-dasharray="0.9 10.55" fill="none"/>
<path d="M233.0 823.5 L233.7 822.5 L234.3 823.5 L235.0 823.1 L235.6 821.0 L236.3 811.9 L237.0 801.9 L237.6 807.3 L238.2 812.7 L238.9 814.8 L239.5 817.5 L240.2 818.1 L240.8 818.8 L241.5 819.7 L242.1 820.2 L242.8 820.2 L243.4 820.6 L244.1 820.9 L244.7 821.0 L245.4 821.9 L246.0 821.7 L246.7 821.3 L247.3 821.9 L248.0 821.8 L248.6 822.3 L249.3 822.1 L249.9 822.1 L250.6 822.4 L251.2 822.3 L251.9 821.8 L252.5 822.5 L253.2 822.0 L253.8 822.5 L254.5 823.1 L255.1 823.0 L255.8 822.8 L256.4 822.8 L257.1 823.3 L257.7 822.4 L258.4 823.1 L259.0 823.3 L259.7 822.4 L260.3 822.8 L261.0 822.8 L261.6 822.7 L262.2 822.5 L262.9 822.5 L263.5 823.0 L264.2 822.4 L264.8 822.2 L265.5 822.8 L266.1 823.0 L266.8 822.5 L267.4 823.0 L268.1 822.2 L268.7 823.2 L269.4 823.0 L270.0 823.0 L270.7 823.1 L271.3 822.9 L272.0 822.3 L272.6 822.1 L273.3 822.6 L273.9 822.9 L274.6 822.3 L275.2 821.9 L275.9 822.1 L276.5 822.3 L277.2 822.3 L277.8 822.0 L278.5 821.1 L279.1 821.0 L279.8 820.9 L280.4 820.0 L281.1 818.7 L281.7 815.7 L282.4 814.0 L283.0 810.9 L283.7 806.1 L284.3 801.6 L285.0 796.1 L285.6 791.1 L286.3 784.8 L286.9 782.4 L287.6 781.1 L288.2 782.3 L288.9 781.2 L289.5 782.7 L290.2 784.5 L290.8 787.3 L291.5 789.3 L292.1 792.2 L292.8 795.9 L293.4 797.8 L294.1 799.2 L294.7 802.6 L295.4 803.8 L296.0 806.1 L296.7 808.3 L297.3 809.5 L298.0 811.7 L298.6 813.5 L299.3 813.4 L299.9 814.7 L300.6 815.2 L301.2 815.7 L301.9 816.2 L302.5 816.5 L303.2 817.5 L303.8 818.0 L304.5 817.4 L305.1 818.6 L305.8 818.6 L306.4 818.4 L307.1 818.4 L307.7 818.5 L308.4 818.6 L309.0 818.1 L309.7 818.7 L310.3 818.5 L311.0 819.4 L311.6 819.7 L312.3 819.9 L312.9 819.2 L313.6 820.3 L314.2 819.8 L314.9 820.9 L315.5 820.7 L316.2 820.6 L316.8 820.8 L317.5 821.0 L318.1 821.1 L318.8 821.8 L319.4 822.2 L320.1 821.9 L320.7 822.3 L321.4 821.9 L322.0 822.8 L322.7 822.2 L323.3 822.7 L324.0 821.9 L324.6 822.6 L325.3 823.0 L325.9 822.1 L326.6 822.3 L327.2 822.3 L327.9 823.0 L328.5 822.5 L329.2 822.6 L329.8 822.7 L330.5 822.5 L331.1 822.2 L331.8 823.2 L332.4 823.3 L333.1 823.4 L333.7 823.1 L334.4 823.3 L335.0 822.6 L335.7 823.3 L336.3 822.7 L337.0 823.5 L337.6 822.5 L338.3 822.4 L338.9 823.3 L339.6 823.1 L340.2 823.3 L340.9 822.8 L341.5 822.7 L342.2 822.1 L342.8 822.3 L343.5 821.3 L344.1 822.0 L344.8 821.2 L345.4 821.3 L346.1 822.4 L346.7 822.2 L347.4 822.4 L348.0 823.4 L348.7 822.9 L349.3 822.5 L350.0 823.0 L350.6 822.8" fill="none" stroke="#222" stroke-width="1" stroke-linejoin="round"/>
<path d="M233.0 777.7H280.0M233.0 772.1V783.3M280.0 772.1V783.3" stroke="#111" stroke-width="1" fill="none"/>
<text class="sa" x="234.6" y="766.3" font-size="17" textLength="46.2" lengthAdjust="spacingAndGlyphs">12.6%</text>
<text class="ti" transform="translate(229.8,825.3) rotate(-90)" textLength="3.6" lengthAdjust="spacingAndGlyphs">0</text>
<text class="ti" transform="translate(229.8,811.3) rotate(-90)" textLength="7.2" lengthAdjust="spacingAndGlyphs">60</text>
<text class="ti" transform="translate(229.8,797.3) rotate(-90)" textLength="10.8" lengthAdjust="spacingAndGlyphs">120</text>
<text class="ti" transform="translate(229.8,781.5) rotate(-90)" textLength="10.8" lengthAdjust="spacingAndGlyphs">180</text>
<text class="ti" transform="translate(229.8,765.7) rotate(-90)" textLength="10.8" lengthAdjust="spacingAndGlyphs">240</text>
<text class="ti" transform="translate(229.8,749.9) rotate(-90)" textLength="10.8" lengthAdjust="spacingAndGlyphs">300</text>
<text class="ti" transform="translate(225.9,798.0) rotate(-90)" textLength="23" lengthAdjust="spacingAndGlyphs">Counts</text>
<path d="M232.5 823.5v3.2M278.3 823.5v3.2M323.9 823.5v3.2" stroke="#333" stroke-width="0.9" fill="none"/>
<text class="tx" x="231.6" y="832.0" textLength="1.9" lengthAdjust="spacingAndGlyphs">0</text>
<text class="tx" x="275.5" y="832.0" textLength="5.7" lengthAdjust="spacingAndGlyphs">200</text>
<text class="tx" x="321.0" y="832.0" textLength="5.7" lengthAdjust="spacingAndGlyphs">400</text>
<text class="tx" x="286.3" y="839.8" textLength="10.4" lengthAdjust="spacingAndGlyphs">FL2-A</text>
<path d="M513.5 749.5V823.5" fill="none" stroke="#6a6a6a" stroke-width="1"/>
<path d="M392.5 749.5H514.0M392.5 823.5H514.0" fill="none" stroke="#303030" stroke-width="1"/>
<path d="M392.2 749.5V823.5" stroke="#2a2a2a" stroke-width="1.3" stroke-dasharray="1 1.1" fill="none"/>
<path d="M392.5 824.7H513.5" stroke="#333" stroke-width="2" stroke-dasharray="0.9 10.75" fill="none"/>
<path d="M393.0 822.4 L393.6 823.1 L394.3 821.9 L394.9 820.8 L395.6 818.8 L396.4 817.7 L396.9 819.0 L397.5 819.2 L398.2 819.6 L398.8 820.9 L399.5 820.6 L400.1 820.9 L400.8 821.5 L401.4 821.7 L402.1 821.5 L402.7 822.4 L403.4 821.7 L404.0 822.1 L404.7 822.5 L405.3 822.5 L406.0 822.6 L406.6 822.8 L407.3 822.7 L407.9 822.0 L408.6 822.6 L409.2 822.7 L409.9 822.4 L410.5 823.0 L411.2 822.2 L411.8 822.8 L412.5 822.0 L413.1 822.0 L413.8 822.0 L414.4 822.7 L415.1 822.2 L415.7 822.0 L416.4 822.0 L417.0 822.0 L417.7 822.8 L418.3 822.7 L419.0 823.1 L419.6 823.0 L420.3 822.0 L420.9 823.1 L421.6 823.0 L422.2 822.2 L422.9 822.7 L423.5 822.6 L424.2 822.1 L424.8 822.0 L425.5 822.6 L426.1 822.1 L426.8 822.8 L427.4 822.6 L428.1 822.3 L428.7 822.0 L429.4 822.2 L430.0 822.3 L430.7 822.6 L431.3 822.7 L432.0 822.1 L432.6 822.1 L433.3 822.1 L433.9 822.6 L434.6 821.6 L435.2 821.4 L435.9 821.6 L436.5 821.7 L437.2 822.0 L437.8 821.3 L438.5 821.1 L439.1 820.8 L439.8 820.1 L440.4 819.7 L441.1 819.4 L441.7 818.5 L442.4 818.0 L443.0 816.8 L443.7 814.4 L444.3 813.1 L445.0 809.9 L445.6 806.9 L446.3 803.2 L446.9 798.1 L447.6 790.7 L448.2 784.8 L448.9 780.0 L449.5 775.9 L450.2 772.6 L450.8 770.1 L451.5 766.7 L452.1 768.1 L453.0 766.4 L453.4 766.7 L454.1 768.2 L454.7 769.0 L455.4 772.6 L456.0 772.8 L456.7 778.3 L457.3 780.8 L458.0 786.6 L458.6 789.9 L459.3 792.9 L459.9 796.3 L460.6 799.5 L461.2 803.4 L461.9 807.1 L462.5 808.7 L463.2 811.2 L463.8 812.8 L464.5 814.4 L465.1 815.8 L465.8 816.4 L466.4 817.6 L467.1 818.1 L467.7 819.6 L468.4 819.5 L469.0 820.5 L469.7 820.3 L470.3 821.3 L471.0 821.7 L471.6 821.4 L472.3 821.3 L472.9 821.9 L473.6 821.5 L474.2 822.2 L474.9 821.7 L475.5 821.9 L476.2 822.1 L476.8 821.6 L477.5 821.9 L478.1 822.7 L478.8 822.3 L479.4 822.8 L480.1 822.5 L480.7 822.0 L481.4 822.2 L482.0 822.8 L482.7 823.0 L483.3 822.5 L484.0 823.0 L484.6 822.6 L485.3 822.4 L485.9 822.4 L486.6 822.5 L487.2 823.0 L487.9 822.1 L488.5 822.9 L489.2 822.6 L489.8 822.9 L490.5 823.3 L491.1 822.6 L491.8 823.1 L492.4 822.2 L493.1 823.2 L493.7 822.2 L494.4 822.4 L495.0 823.3 L495.7 822.5 L496.3 822.7 L497.0 823.1 L497.6 822.2 L498.3 822.4 L498.9 822.6 L499.6 823.4 L500.2 823.2 L500.9 823.4 L501.5 823.3 L502.2 823.4 L502.8 822.4 L503.5 822.5 L504.1 822.1 L504.8 821.6 L505.4 821.5 L506.1 820.9 L506.7 821.1 L507.4 822.0 L508.0 822.0 L508.7 822.8 L509.3 822.4 L510.0 823.3 L510.6 822.4 L511.3 823.0 L511.9 822.6 L512.6 822.9" fill="none" stroke="#222" stroke-width="1" stroke-linejoin="round"/>
<path d="M393.2 777.7H438.5M393.2 772.1V783.3M438.5 772.1V783.3" stroke="#111" stroke-width="1" fill="none"/>
<text class="sa" x="399.4" y="767.0" font-size="17" textLength="36.9" lengthAdjust="spacingAndGlyphs">6.7%</text>
<text class="ti" transform="translate(389.8,825.3) rotate(-90)" textLength="3.6" lengthAdjust="spacingAndGlyphs">0</text>
<text class="ti" transform="translate(389.8,812.3) rotate(-90)" textLength="7.2" lengthAdjust="spacingAndGlyphs">50</text>
<text class="ti" transform="translate(389.8,799.3) rotate(-90)" textLength="10.8" lengthAdjust="spacingAndGlyphs">100</text>
<text class="ti" transform="translate(389.8,784.5) rotate(-90)" textLength="10.8" lengthAdjust="spacingAndGlyphs">150</text>
<text class="ti" transform="translate(389.8,769.7) rotate(-90)" textLength="10.8" lengthAdjust="spacingAndGlyphs">200</text>
<text class="ti" transform="translate(389.8,754.9) rotate(-90)" textLength="10.8" lengthAdjust="spacingAndGlyphs">250</text>
<text class="ti" transform="translate(385.9,800.5) rotate(-90)" textLength="23" lengthAdjust="spacingAndGlyphs">Counts</text>
<path d="M392.5 823.5v3.2M439.1 823.5v3.2M485.4 823.5v3.2" stroke="#333" stroke-width="0.9" fill="none"/>
<text class="tx" x="391.6" y="832.0" textLength="1.9" lengthAdjust="spacingAndGlyphs">0</text>
<text class="tx" x="436.2" y="832.0" textLength="5.7" lengthAdjust="spacingAndGlyphs">200</text>
<text class="tx" x="482.6" y="832.0" textLength="5.7" lengthAdjust="spacingAndGlyphs">400</text>
<text class="tx" x="447.1" y="840.2" textLength="10.4" lengthAdjust="spacingAndGlyphs">FL2-A</text>
<path d="M201.5 855.5V932.5" fill="none" stroke="#6a6a6a" stroke-width="1"/>
<path d="M84.5 855.5H202.0M84.5 932.5H202.0" fill="none" stroke="#303030" stroke-width="1"/>
<path d="M84.2 855.5V932.5" stroke="#2a2a2a" stroke-width="1.3" stroke-dasharray="1 1.1" fill="none"/>
<path d="M84.5 933.7H201.5" stroke="#333" stroke-width="2" stroke-dasharray="0.9 10.36" fill="none"/>
<path d="M85.0 932.3 L85.7 928.1 L86.3 911.6 L86.8 900.2 L87.6 913.3 L88.3 919.4 L88.9 922.8 L89.6 924.5 L90.2 927.3 L90.9 927.5 L91.5 928.5 L92.2 928.3 L92.8 929.6 L93.5 929.4 L94.1 929.3 L94.8 930.4 L95.4 929.6 L96.1 930.2 L96.7 930.3 L97.4 930.4 L98.0 931.2 L98.7 931.3 L99.3 931.3 L100.0 931.3 L100.6 930.8 L101.3 930.7 L101.9 930.9 L102.6 931.8 L103.2 931.4 L103.9 931.9 L104.5 931.0 L105.2 931.3 L105.8 931.7 L106.5 931.4 L107.1 931.9 L107.8 931.2 L108.4 931.3 L109.1 932.1 L109.7 931.0 L110.4 932.0 L111.0 931.3 L111.7 931.6 L112.3 931.2 L113.0 931.7 L113.6 931.4 L114.3 932.0 L114.9 931.2 L115.6 930.9 L116.2 931.7 L116.9 930.8 L117.5 931.9 L118.2 931.5 L118.8 931.8 L119.5 930.7 L120.1 931.0 L120.8 931.4 L121.4 931.1 L122.1 930.9 L122.7 930.7 L123.4 930.7 L124.0 930.2 L124.7 930.1 L125.3 930.6 L126.0 929.7 L126.6 929.2 L127.3 929.4 L127.9 928.9 L128.6 929.2 L129.2 928.9 L129.9 928.3 L130.5 927.6 L131.2 926.8 L131.8 925.8 L132.5 925.4 L133.1 924.2 L133.8 922.4 L134.4 921.0 L135.1 918.5 L135.7 916.7 L136.4 913.0 L137.0 909.6 L137.7 907.1 L138.3 901.9 L139.0 897.6 L139.6 895.2 L140.3 892.0 L140.9 888.2 L141.6 887.4 L142.0 884.1 L142.9 886.7 L143.5 889.3 L144.2 892.4 L144.8 896.0 L145.5 900.7 L146.1 905.3 L146.8 909.0 L147.4 911.2 L148.1 914.7 L148.7 917.5 L149.4 919.9 L150.0 922.3 L150.7 923.2 L151.3 924.8 L152.0 925.6 L152.6 926.9 L153.3 927.0 L153.9 928.5 L154.6 927.9 L155.2 929.5 L155.9 929.8 L156.5 929.4 L157.2 930.1 L157.8 929.6 L158.5 930.1 L159.1 930.0 L159.8 930.0 L160.4 930.7 L161.1 931.2 L161.7 931.3 L162.4 930.4 L163.0 931.1 L163.7 930.5 L164.3 930.7 L165.0 931.0 L165.6 931.4 L166.3 931.0 L166.9 931.1 L167.6 931.5 L168.2 931.2 L168.9 932.0 L169.5 931.1 L170.2 932.0 L170.8 932.0 L171.5 931.1 L172.1 931.9 L172.8 931.8 L173.4 931.9 L174.1 932.1 L174.7 931.3 L175.4 931.5 L176.0 931.5 L176.7 931.5 L177.3 932.4 L178.0 931.5 L178.6 931.9 L179.3 931.7 L179.9 932.4 L180.6 932.1 L181.2 931.9 L181.9 932.4 L182.5 931.8 L183.2 931.5 L183.8 931.8 L184.5 932.2 L185.1 931.6 L185.8 931.9 L186.4 931.4 L187.1 932.5 L187.7 932.4 L188.4 932.0 L189.0 931.6 L189.7 932.4 L190.3 932.3 L191.0 932.3 L191.6 931.9 L192.3 931.0 L192.9 931.3 L193.6 930.6 L194.2 931.0 L194.9 930.9 L195.5 930.5 L196.2 931.4 L196.8 931.2 L197.5 931.3 L198.1 932.2 L198.8 932.5 L199.4 931.6 L200.1 932.4 L200.7 932.1" fill="none" stroke="#222" stroke-width="1" stroke-linejoin="round"/>
<path d="M84.6 886.8H133.0M84.6 881.2V892.4M133.0 881.2V892.4" stroke="#111" stroke-width="1" fill="none"/>
<text class="sa" x="88.3" y="874.5" font-size="17" textLength="45.5" lengthAdjust="spacingAndGlyphs">19.6%</text>
<text class="ti" transform="translate(81.8,934.3) rotate(-90)" textLength="3.6" lengthAdjust="spacingAndGlyphs">0</text>
<text class="ti" transform="translate(81.8,920.7) rotate(-90)" textLength="7.2" lengthAdjust="spacingAndGlyphs">60</text>
<text class="ti" transform="translate(81.8,907.1) rotate(-90)" textLength="10.8" lengthAdjust="spacingAndGlyphs">120</text>
<text class="ti" transform="translate(81.8,891.7) rotate(-90)" textLength="10.8" lengthAdjust="spacingAndGlyphs">180</text>
<text class="ti" transform="translate(81.8,876.3) rotate(-90)" textLength="10.8" lengthAdjust="spacingAndGlyphs">240</text>
<text class="ti" transform="translate(81.8,860.9) rotate(-90)" textLength="10.8" lengthAdjust="spacingAndGlyphs">300</text>
<text class="ti" transform="translate(77.9,908.0) rotate(-90)" textLength="23" lengthAdjust="spacingAndGlyphs">Counts</text>
<path d="M84.5 932.5v3.2M129.5 932.5v3.2M174.4 932.5v3.2" stroke="#333" stroke-width="0.9" fill="none"/>
<text class="tx" x="83.5" y="941.0" textLength="1.9" lengthAdjust="spacingAndGlyphs">0</text>
<text class="tx" x="126.7" y="941.0" textLength="5.7" lengthAdjust="spacingAndGlyphs">200</text>
<text class="tx" x="171.5" y="941.0" textLength="5.7" lengthAdjust="spacingAndGlyphs">400</text>
<text class="tx" x="137.3" y="948.9" textLength="10.4" lengthAdjust="spacingAndGlyphs">FL2-A</text>
<path d="M351.5 854.5V937.5" fill="none" stroke="#6a6a6a" stroke-width="1"/>
<path d="M233.5 854.5H352.0M233.5 937.5H352.0" fill="none" stroke="#303030" stroke-width="1"/>
<path d="M233.2 854.5V937.5" stroke="#2a2a2a" stroke-width="1.3" stroke-dasharray="1 1.1" fill="none"/>
<path d="M233.5 938.7H351.5" stroke="#333" stroke-width="2" stroke-dasharray="0.9 10.46" fill="none"/>
<path d="M234.0 937.4 L234.7 936.5 L235.3 936.6 L236.0 936.4 L236.6 934.3 L237.3 929.9 L237.9 927.3 L238.3 925.9 L239.2 929.0 L239.9 930.1 L240.5 932.1 L241.2 933.4 L241.8 933.9 L242.5 934.7 L243.1 935.1 L243.8 935.2 L244.4 934.6 L245.1 934.9 L245.7 935.3 L246.4 935.2 L247.0 936.0 L247.7 936.1 L248.3 935.3 L249.0 936.5 L249.6 935.6 L250.3 935.8 L250.9 936.7 L251.6 936.7 L252.2 936.4 L252.9 936.8 L253.5 935.8 L254.2 935.8 L254.8 935.8 L255.5 936.2 L256.1 936.4 L256.8 936.6 L257.4 936.8 L258.1 936.4 L258.7 936.1 L259.4 936.9 L260.0 937.1 L260.7 936.0 L261.3 935.9 L261.9 936.7 L262.6 936.0 L263.2 937.0 L263.9 936.9 L264.5 937.0 L265.2 935.9 L265.8 936.1 L266.5 936.5 L267.1 936.6 L267.8 937.0 L268.4 936.8 L269.1 935.9 L269.7 936.1 L270.4 936.5 L271.0 936.5 L271.7 935.6 L272.3 936.3 L273.0 935.7 L273.6 935.8 L274.3 936.0 L274.9 936.5 L275.6 935.9 L276.2 935.4 L276.9 936.3 L277.5 935.1 L278.2 936.1 L278.8 934.9 L279.5 935.5 L280.1 934.9 L280.8 935.2 L281.4 934.3 L282.1 934.8 L282.7 933.4 L283.4 933.7 L284.0 931.8 L284.7 931.5 L285.3 930.2 L286.0 929.3 L286.6 927.7 L287.3 925.6 L287.9 922.6 L288.6 919.8 L289.2 917.0 L289.9 914.4 L290.5 910.5 L291.2 907.8 L291.8 902.9 L292.5 900.3 L293.1 897.0 L293.8 894.5 L294.4 893.0 L295.1 890.3 L295.5 891.6 L296.4 891.0 L297.0 894.2 L297.7 895.3 L298.3 899.3 L299.0 903.4 L299.6 905.4 L300.3 909.5 L300.9 912.3 L301.6 916.0 L302.2 920.1 L302.9 921.8 L303.5 924.3 L304.2 926.4 L304.8 929.0 L305.5 930.2 L306.1 931.2 L306.8 932.3 L307.4 932.8 L308.1 933.1 L308.7 934.5 L309.4 934.5 L310.0 934.4 L310.7 934.7 L311.3 935.3 L312.0 934.5 L312.6 934.5 L313.3 935.2 L313.9 934.4 L314.6 935.1 L315.2 934.5 L315.9 934.9 L316.5 934.7 L317.2 934.3 L317.8 934.7 L318.5 935.5 L319.1 935.2 L319.8 935.9 L320.4 935.9 L321.1 936.3 L321.7 936.8 L322.4 936.7 L323.0 936.9 L323.7 936.6 L324.3 936.9 L325.0 937.0 L325.6 937.2 L326.3 936.5 L326.9 937.1 L327.6 937.0 L328.2 937.2 L328.9 936.8 L329.5 936.6 L330.2 936.5 L330.8 936.4 L331.5 936.3 L332.1 936.5 L332.8 936.5 L333.4 937.3 L334.1 936.6 L334.7 937.1 L335.4 937.4 L336.0 936.5 L336.7 937.3 L337.3 936.4 L338.0 937.5 L338.6 937.1 L339.3 936.7 L339.9 937.3 L340.6 937.2 L341.2 937.2 L341.9 936.9 L342.5 936.4 L343.2 936.5 L343.8 935.1 L344.5 935.2 L345.1 935.8 L345.8 936.1 L346.4 935.8 L347.1 936.4 L347.7 936.6 L348.4 937.5 L349.0 937.0 L349.7 936.4 L350.3 937.3 L351.0 936.7" fill="none" stroke="#222" stroke-width="1" stroke-linejoin="round"/>
<path d="M234.0 889.2H284.8M234.0 883.6V894.8M284.8 883.6V894.8" stroke="#111" stroke-width="1" fill="none"/>
<text class="sa" x="238.6" y="878.5" font-size="17" textLength="46.2" lengthAdjust="spacingAndGlyphs">12.8%</text>
<text class="ti" transform="translate(230.8,939.3) rotate(-90)" textLength="3.6" lengthAdjust="spacingAndGlyphs">0</text>
<text class="ti" transform="translate(230.8,924.5) rotate(-90)" textLength="7.2" lengthAdjust="spacingAndGlyphs">60</text>
<text class="ti" transform="translate(230.8,909.7) rotate(-90)" textLength="10.8" lengthAdjust="spacingAndGlyphs">120</text>
<text class="ti" transform="translate(230.8,893.1) rotate(-90)" textLength="10.8" lengthAdjust="spacingAndGlyphs">180</text>
<text class="ti" transform="translate(230.8,876.5) rotate(-90)" textLength="10.8" lengthAdjust="spacingAndGlyphs">240</text>
<text class="ti" transform="translate(230.8,859.9) rotate(-90)" textLength="10.8" lengthAdjust="spacingAndGlyphs">300</text>
<text class="ti" transform="translate(226.9,910.0) rotate(-90)" textLength="23" lengthAdjust="spacingAndGlyphs">Counts</text>
<path d="M233.5 937.5v3.2M278.9 937.5v3.2M324.1 937.5v3.2" stroke="#333" stroke-width="0.9" fill="none"/>
<text class="tx" x="232.6" y="946.6" textLength="1.9" lengthAdjust="spacingAndGlyphs">0</text>
<text class="tx" x="276.1" y="946.6" textLength="5.7" lengthAdjust="spacingAndGlyphs">200</text>
<text class="tx" x="321.3" y="946.6" textLength="5.7" lengthAdjust="spacingAndGlyphs">400</text>
<text class="tx" x="286.3" y="955.7" textLength="10.4" lengthAdjust="spacingAndGlyphs">FL2-A</text>
<path d="M513.5 861.5V942.5" fill="none" stroke="#6a6a6a" stroke-width="1"/>
<path d="M392.5 861.5H514.0M392.5 942.5H514.0" fill="none" stroke="#303030" stroke-width="1"/>
<path d="M392.2 861.5V942.5" stroke="#2a2a2a" stroke-width="1.3" stroke-dasharray="1 1.1" fill="none"/>
<path d="M392.5 943.7H513.5" stroke="#333" stroke-width="2" stroke-dasharray="0.9 10.75" fill="none"/>
<path d="M393.0 941.8 L393.6 942.1 L394.3 941.0 L394.9 940.8 L395.6 938.4 L396.2 935.8 L397.0 935.2 L397.5 935.9 L398.2 937.6 L398.8 938.7 L399.5 938.5 L400.1 938.9 L400.8 939.5 L401.4 940.4 L402.1 939.7 L402.7 940.8 L403.4 940.3 L404.0 941.0 L404.7 941.2 L405.3 941.0 L406.0 941.2 L406.6 941.6 L407.3 940.8 L407.9 941.1 L408.6 941.7 L409.2 941.5 L409.9 941.6 L410.5 941.8 L411.2 941.4 L411.8 941.6 L412.5 941.1 L413.1 942.0 L413.8 941.6 L414.4 941.9 L415.1 942.1 L415.7 941.6 L416.4 941.1 L417.0 941.9 L417.7 941.4 L418.3 942.1 L419.0 941.3 L419.6 941.7 L420.3 941.8 L420.9 941.0 L421.6 942.1 L422.2 941.2 L422.9 942.0 L423.5 941.3 L424.2 941.8 L424.8 941.2 L425.5 941.1 L426.1 941.2 L426.8 941.0 L427.4 941.4 L428.1 941.1 L428.7 941.2 L429.4 941.9 L430.0 941.3 L430.7 941.8 L431.3 940.8 L432.0 940.8 L432.6 941.2 L433.3 941.0 L433.9 940.7 L434.6 940.7 L435.2 941.5 L435.9 941.7 L436.5 940.7 L437.2 941.4 L437.8 940.5 L438.5 940.3 L439.1 940.4 L439.8 941.2 L440.4 940.1 L441.1 940.5 L441.7 940.4 L442.4 940.0 L443.0 940.0 L443.7 939.7 L444.3 939.4 L445.0 938.7 L445.6 937.2 L446.3 936.2 L446.9 935.7 L447.6 933.7 L448.2 931.6 L448.9 928.4 L449.5 926.2 L450.2 922.4 L450.8 917.8 L451.5 914.6 L452.1 907.4 L452.8 903.7 L453.4 896.9 L454.1 893.1 L454.7 890.2 L455.4 882.9 L456.0 879.9 L456.7 877.8 L457.2 878.2 L458.0 880.4 L458.6 881.8 L459.3 885.8 L459.9 887.7 L460.6 894.5 L461.2 896.8 L461.9 903.5 L462.5 908.3 L463.2 912.8 L463.8 916.7 L464.5 918.8 L465.1 922.0 L465.8 924.2 L466.4 926.6 L467.1 927.3 L467.7 930.5 L468.4 930.9 L469.0 933.0 L469.7 934.6 L470.3 935.2 L471.0 937.0 L471.6 937.9 L472.3 938.9 L472.9 938.8 L473.6 940.1 L474.2 939.7 L474.9 940.1 L475.5 940.1 L476.2 941.1 L476.8 940.5 L477.5 940.9 L478.1 940.6 L478.8 941.6 L479.4 941.5 L480.1 941.6 L480.7 941.1 L481.4 941.0 L482.0 941.2 L482.7 941.7 L483.3 941.2 L484.0 942.1 L484.6 942.1 L485.3 941.8 L485.9 941.7 L486.6 941.8 L487.2 942.0 L487.9 942.3 L488.5 941.4 L489.2 942.0 L489.8 942.2 L490.5 941.9 L491.1 941.2 L491.8 942.2 L492.4 941.4 L493.1 942.0 L493.7 942.0 L494.4 942.0 L495.0 942.4 L495.7 941.7 L496.3 941.4 L497.0 941.7 L497.6 942.3 L498.3 942.1 L498.9 941.9 L499.6 941.7 L500.2 942.5 L500.9 942.3 L501.5 941.6 L502.2 942.1 L502.8 942.0 L503.5 942.0 L504.1 941.8 L504.8 940.7 L505.4 940.3 L506.1 940.6 L506.7 940.3 L507.4 940.6 L508.0 940.7 L508.7 941.1 L509.3 941.9 L510.0 942.0 L510.6 941.5 L511.3 941.5 L511.9 942.0 L512.6 941.8" fill="none" stroke="#222" stroke-width="1" stroke-linejoin="round"/>
<path d="M394.8 893.8H443.0M394.8 888.2V899.4M443.0 888.2V899.4" stroke="#111" stroke-width="1" fill="none"/>
<text class="sa" x="402.0" y="881.5" font-size="17" textLength="37.4" lengthAdjust="spacingAndGlyphs">6.6%</text>
<text class="ti" transform="translate(389.8,944.3) rotate(-90)" textLength="3.6" lengthAdjust="spacingAndGlyphs">0</text>
<text class="ti" transform="translate(389.8,929.9) rotate(-90)" textLength="7.2" lengthAdjust="spacingAndGlyphs">50</text>
<text class="ti" transform="translate(389.8,915.5) rotate(-90)" textLength="10.8" lengthAdjust="spacingAndGlyphs">100</text>
<text class="ti" transform="translate(389.8,899.3) rotate(-90)" textLength="10.8" lengthAdjust="spacingAndGlyphs">150</text>
<text class="ti" transform="translate(389.8,883.1) rotate(-90)" textLength="10.8" lengthAdjust="spacingAndGlyphs">200</text>
<text class="ti" transform="translate(389.8,866.9) rotate(-90)" textLength="10.8" lengthAdjust="spacingAndGlyphs">250</text>
<text class="ti" transform="translate(385.9,916.0) rotate(-90)" textLength="23" lengthAdjust="spacingAndGlyphs">Counts</text>
<path d="M392.5 942.5v3.2M439.1 942.5v3.2M485.4 942.5v3.2" stroke="#333" stroke-width="0.9" fill="none"/>
<text class="tx" x="391.6" y="951.0" textLength="1.9" lengthAdjust="spacingAndGlyphs">0</text>
<text class="tx" x="436.2" y="951.0" textLength="5.7" lengthAdjust="spacingAndGlyphs">200</text>
<text class="tx" x="482.6" y="951.0" textLength="5.7" lengthAdjust="spacingAndGlyphs">400</text>
<text class="tx" x="446.8" y="959.7" textLength="10.4" lengthAdjust="spacingAndGlyphs">FL2-A</text>
<path d="M201.5 965.5V1056.5" fill="none" stroke="#6a6a6a" stroke-width="1"/>
<path d="M84.5 965.5H202.0M84.5 1056.5H202.0" fill="none" stroke="#303030" stroke-width="1"/>
<path d="M84.2 965.5V1056.5" stroke="#2a2a2a" stroke-width="1.3" stroke-dasharray="1 1.1" fill="none"/>
<path d="M84.5 1057.7H201.5" stroke="#333" stroke-width="2" stroke-dasharray="0.9 10.36" fill="none"/>
<path d="M85.0 1056.3 L85.7 1053.6 L86.3 1042.7 L87.0 1030.0 L87.6 1037.8 L88.3 1043.3 L88.9 1047.1 L89.6 1050.0 L90.2 1051.2 L90.9 1051.7 L91.5 1052.3 L92.2 1052.7 L92.8 1053.7 L93.5 1053.4 L94.1 1053.8 L94.8 1053.7 L95.4 1053.8 L96.1 1054.8 L96.7 1054.5 L97.4 1054.4 L98.0 1055.1 L98.7 1054.8 L99.3 1054.9 L100.0 1055.3 L100.6 1055.7 L101.3 1055.0 L101.9 1055.1 L102.6 1054.9 L103.2 1055.7 L103.9 1056.0 L104.5 1055.1 L105.2 1055.2 L105.8 1055.4 L106.5 1055.1 L107.1 1055.3 L107.8 1055.7 L108.4 1055.1 L109.1 1055.7 L109.7 1055.4 L110.4 1055.7 L111.0 1055.9 L111.7 1055.4 L112.3 1055.1 L113.0 1055.1 L113.6 1055.1 L114.3 1055.3 L114.9 1056.0 L115.6 1055.9 L116.2 1056.0 L116.9 1055.4 L117.5 1055.6 L118.2 1055.1 L118.8 1054.7 L119.5 1054.9 L120.1 1055.1 L120.8 1054.5 L121.4 1055.5 L122.1 1054.3 L122.7 1054.7 L123.4 1055.0 L124.0 1054.1 L124.7 1054.3 L125.3 1054.3 L126.0 1053.4 L126.6 1053.8 L127.3 1053.0 L127.9 1052.7 L128.6 1052.9 L129.2 1052.5 L129.9 1051.5 L130.5 1051.2 L131.2 1050.6 L131.8 1049.5 L132.5 1048.2 L133.1 1045.5 L133.8 1044.0 L134.4 1040.8 L135.1 1038.1 L135.7 1033.8 L136.4 1029.5 L137.0 1024.1 L137.7 1018.5 L138.3 1012.9 L139.0 1006.6 L139.6 1004.0 L140.3 1000.6 L140.6 996.4 L140.9 999.7 L141.6 1001.9 L142.2 1005.8 L142.9 1011.1 L143.5 1018.2 L144.2 1022.1 L144.8 1026.3 L145.5 1031.7 L146.1 1036.4 L146.8 1039.0 L147.4 1040.7 L148.1 1043.3 L148.7 1045.3 L149.4 1046.5 L150.0 1047.4 L150.7 1048.8 L151.3 1048.9 L152.0 1049.6 L152.6 1050.5 L153.3 1050.2 L153.9 1051.2 L154.6 1051.5 L155.2 1052.8 L155.9 1052.7 L156.5 1053.9 L157.2 1053.8 L157.8 1053.7 L158.5 1054.7 L159.1 1054.6 L159.8 1054.6 L160.4 1055.3 L161.1 1054.8 L161.7 1055.6 L162.4 1055.5 L163.0 1055.0 L163.7 1055.9 L164.3 1054.9 L165.0 1055.7 L165.6 1055.3 L166.3 1055.5 L166.9 1055.1 L167.6 1055.2 L168.2 1055.5 L168.9 1056.1 L169.5 1055.9 L170.2 1055.9 L170.8 1055.7 L171.5 1055.4 L172.1 1055.3 L172.8 1055.7 L173.4 1056.4 L174.1 1055.4 L174.7 1055.7 L175.4 1055.4 L176.0 1055.6 L176.7 1055.4 L177.3 1056.0 L178.0 1056.2 L178.6 1055.8 L179.3 1056.5 L179.9 1055.5 L180.6 1055.9 L181.2 1056.0 L181.9 1055.4 L182.5 1055.5 L183.2 1056.0 L183.8 1056.2 L184.5 1055.4 L185.1 1056.3 L185.8 1056.5 L186.4 1056.4 L187.1 1056.5 L187.7 1056.3 L188.4 1055.7 L189.0 1056.4 L189.7 1056.4 L190.3 1056.6 L191.0 1056.4 L191.6 1055.2 L192.3 1055.3 L192.9 1054.6 L193.6 1054.3 L194.2 1054.8 L194.9 1054.2 L195.5 1054.9 L196.2 1055.5 L196.8 1056.1 L197.5 1055.9 L198.1 1056.0 L198.8 1056.1 L199.4 1056.5 L200.1 1056.1 L200.7 1056.1" fill="none" stroke="#222" stroke-width="1" stroke-linejoin="round"/>
<path d="M84.6 1005.0H130.0M84.6 999.4V1010.6M130.0 999.4V1010.6" stroke="#111" stroke-width="1" fill="none"/>
<text class="sa" x="84.6" y="992.6" font-size="17" textLength="46.2" lengthAdjust="spacingAndGlyphs">15.2%</text>
<text class="ti" transform="translate(81.8,1058.3) rotate(-90)" textLength="3.6" lengthAdjust="spacingAndGlyphs">0</text>
<text class="ti" transform="translate(81.8,1041.9) rotate(-90)" textLength="7.2" lengthAdjust="spacingAndGlyphs">60</text>
<text class="ti" transform="translate(81.8,1025.5) rotate(-90)" textLength="10.8" lengthAdjust="spacingAndGlyphs">120</text>
<text class="ti" transform="translate(81.8,1007.3) rotate(-90)" textLength="10.8" lengthAdjust="spacingAndGlyphs">180</text>
<text class="ti" transform="translate(81.8,989.1) rotate(-90)" textLength="10.8" lengthAdjust="spacingAndGlyphs">240</text>
<text class="ti" transform="translate(81.8,970.9) rotate(-90)" textLength="10.8" lengthAdjust="spacingAndGlyphs">300</text>
<text class="ti" transform="translate(77.9,1025.0) rotate(-90)" textLength="23" lengthAdjust="spacingAndGlyphs">Counts</text>
<path d="M84.5 1056.5v3.2M129.5 1056.5v3.2M174.4 1056.5v3.2" stroke="#333" stroke-width="0.9" fill="none"/>
<text class="tx" x="83.5" y="1064.8" textLength="1.9" lengthAdjust="spacingAndGlyphs">0</text>
<text class="tx" x="126.7" y="1064.8" textLength="5.7" lengthAdjust="spacingAndGlyphs">200</text>
<text class="tx" x="171.5" y="1064.8" textLength="5.7" lengthAdjust="spacingAndGlyphs">400</text>
<text class="tx" x="137.3" y="1072.6" textLength="10.4" lengthAdjust="spacingAndGlyphs">FL2-A</text>
<path d="M351.5 970.5V1058.5" fill="none" stroke="#6a6a6a" stroke-width="1"/>
<path d="M232.5 970.5H352.0M232.5 1058.5H352.0" fill="none" stroke="#303030" stroke-width="1"/>
<path d="M232.2 970.5V1058.5" stroke="#2a2a2a" stroke-width="1.3" stroke-dasharray="1 1.1" fill="none"/>
<path d="M232.5 1059.7H351.5" stroke="#333" stroke-width="2" stroke-dasharray="0.9 10.55" fill="none"/>
<path d="M233.0 1058.6 L233.7 1058.4 L234.3 1057.8 L235.0 1058.3 L235.6 1057.5 L236.3 1054.6 L236.9 1051.2 L237.7 1047.5 L238.2 1049.6 L238.9 1051.8 L239.5 1052.3 L240.2 1054.2 L240.8 1054.5 L241.5 1055.6 L242.1 1055.3 L242.8 1055.5 L243.4 1055.5 L244.1 1056.3 L244.7 1056.3 L245.4 1056.5 L246.0 1057.3 L246.7 1057.1 L247.3 1057.3 L248.0 1057.3 L248.6 1057.2 L249.3 1057.5 L249.9 1056.7 L250.6 1057.1 L251.2 1057.0 L251.9 1057.5 L252.5 1057.2 L253.2 1057.2 L253.8 1057.1 L254.5 1058.0 L255.1 1057.7 L255.8 1057.0 L256.4 1057.7 L257.1 1057.6 L257.7 1057.6 L258.4 1057.9 L259.0 1057.8 L259.7 1057.1 L260.3 1057.9 L261.0 1057.6 L261.6 1058.2 L262.2 1057.5 L262.9 1057.7 L263.5 1057.8 L264.2 1057.6 L264.8 1057.2 L265.5 1057.4 L266.1 1057.6 L266.8 1057.5 L267.4 1057.7 L268.1 1057.1 L268.7 1057.9 L269.4 1058.0 L270.0 1057.1 L270.7 1057.4 L271.3 1058.0 L272.0 1057.5 L272.6 1057.5 L273.3 1057.7 L273.9 1057.0 L274.6 1057.0 L275.2 1058.0 L275.9 1056.8 L276.5 1057.4 L277.2 1057.0 L277.8 1057.7 L278.5 1057.2 L279.1 1056.7 L279.8 1057.4 L280.4 1056.7 L281.1 1057.1 L281.7 1056.5 L282.4 1056.6 L283.0 1056.7 L283.7 1056.0 L284.3 1056.0 L285.0 1055.0 L285.6 1053.9 L286.3 1053.8 L286.9 1052.1 L287.6 1051.2 L288.2 1048.3 L288.9 1046.0 L289.5 1043.6 L290.2 1040.9 L290.8 1036.7 L291.5 1031.9 L292.1 1027.6 L292.8 1024.1 L293.4 1018.4 L294.1 1015.8 L294.7 1011.5 L295.4 1008.2 L296.0 1005.3 L296.7 1004.8 L297.0 1002.0 L297.3 1002.2 L298.0 1004.8 L298.6 1008.4 L299.3 1012.1 L299.9 1014.9 L300.6 1019.8 L301.2 1024.2 L301.9 1027.0 L302.5 1032.5 L303.2 1037.6 L303.8 1039.9 L304.5 1043.4 L305.1 1046.8 L305.8 1048.4 L306.4 1050.4 L307.1 1052.8 L307.7 1053.3 L308.4 1055.0 L309.0 1055.4 L309.7 1055.5 L310.3 1056.0 L311.0 1055.9 L311.6 1056.4 L312.3 1057.0 L312.9 1057.2 L313.6 1056.8 L314.2 1057.2 L314.9 1056.6 L315.5 1057.6 L316.2 1056.8 L316.8 1056.9 L317.5 1057.8 L318.1 1057.2 L318.8 1056.9 L319.4 1058.1 L320.1 1057.8 L320.7 1057.1 L321.4 1058.1 L322.0 1057.6 L322.7 1057.5 L323.3 1058.0 L324.0 1058.0 L324.6 1057.2 L325.3 1058.2 L325.9 1058.0 L326.6 1057.5 L327.2 1058.1 L327.9 1057.7 L328.5 1058.4 L329.2 1057.4 L329.8 1057.8 L330.5 1057.7 L331.1 1058.3 L331.8 1057.4 L332.4 1057.4 L333.1 1058.2 L333.7 1058.4 L334.4 1057.4 L335.0 1057.8 L335.7 1057.4 L336.3 1057.3 L337.0 1057.5 L337.6 1057.6 L338.3 1057.4 L338.9 1057.5 L339.6 1058.2 L340.2 1058.4 L340.9 1057.4 L341.5 1057.3 L342.2 1057.6 L342.8 1057.3 L343.5 1057.1 L344.1 1056.1 L344.8 1056.7 L345.4 1056.9 L346.1 1057.1 L346.7 1058.0 L347.4 1058.1 L348.0 1058.2 L348.7 1058.0 L349.3 1058.2 L350.0 1058.0 L350.6 1057.9" fill="none" stroke="#222" stroke-width="1" stroke-linejoin="round"/>
<path d="M232.0 1005.0H277.0M232.0 999.4V1010.6M277.0 999.4V1010.6" stroke="#111" stroke-width="1" fill="none"/>
<text class="sa" x="238.3" y="993.5" font-size="17" textLength="36.9" lengthAdjust="spacingAndGlyphs">9.3%</text>
<text class="ti" transform="translate(229.8,1060.3) rotate(-90)" textLength="3.6" lengthAdjust="spacingAndGlyphs">0</text>
<text class="ti" transform="translate(229.8,1044.5) rotate(-90)" textLength="7.2" lengthAdjust="spacingAndGlyphs">60</text>
<text class="ti" transform="translate(229.8,1028.7) rotate(-90)" textLength="10.8" lengthAdjust="spacingAndGlyphs">120</text>
<text class="ti" transform="translate(229.8,1011.1) rotate(-90)" textLength="10.8" lengthAdjust="spacingAndGlyphs">180</text>
<text class="ti" transform="translate(229.8,993.5) rotate(-90)" textLength="10.8" lengthAdjust="spacingAndGlyphs">240</text>
<text class="ti" transform="translate(229.8,975.9) rotate(-90)" textLength="10.8" lengthAdjust="spacingAndGlyphs">300</text>
<text class="ti" transform="translate(225.9,1028.5) rotate(-90)" textLength="23" lengthAdjust="spacingAndGlyphs">Counts</text>
<path d="M232.5 1058.5v3.2M278.3 1058.5v3.2M323.9 1058.5v3.2" stroke="#333" stroke-width="0.9" fill="none"/>
<text class="tx" x="231.6" y="1067.0" textLength="1.9" lengthAdjust="spacingAndGlyphs">0</text>
<text class="tx" x="275.5" y="1067.0" textLength="5.7" lengthAdjust="spacingAndGlyphs">200</text>
<text class="tx" x="321.0" y="1067.0" textLength="5.7" lengthAdjust="spacingAndGlyphs">400</text>
<text class="tx" x="286.3" y="1075.7" textLength="10.4" lengthAdjust="spacingAndGlyphs">FL2-A</text>
<path d="M513.5 973.5V1059.5" fill="none" stroke="#6a6a6a" stroke-width="1"/>
<path d="M393.5 973.5H514.0M393.5 1059.5H514.0" fill="none" stroke="#303030" stroke-width="1"/>
<path d="M393.2 973.5V1059.5" stroke="#2a2a2a" stroke-width="1.3" stroke-dasharray="1 1.1" fill="none"/>
<path d="M393.5 1060.7H513.5" stroke="#333" stroke-width="2" stroke-dasharray="0.9 10.65" fill="none"/>
<path d="M394.0 1058.7 L394.6 1058.8 L395.3 1058.0 L395.9 1057.7 L396.6 1056.9 L397.2 1055.2 L397.9 1054.3 L398.5 1054.7 L399.2 1054.5 L399.8 1056.1 L400.5 1056.0 L401.1 1056.3 L401.8 1056.7 L402.4 1057.6 L403.1 1056.8 L403.7 1057.6 L404.4 1057.5 L405.0 1057.3 L405.7 1057.3 L406.3 1058.4 L407.0 1057.7 L407.6 1058.3 L408.3 1057.9 L408.9 1057.8 L409.6 1058.8 L410.2 1058.4 L410.9 1058.2 L411.5 1058.3 L412.2 1058.4 L412.8 1057.8 L413.5 1058.9 L414.1 1058.3 L414.8 1058.9 L415.4 1058.3 L416.1 1058.1 L416.7 1058.4 L417.4 1059.0 L418.0 1058.0 L418.7 1058.9 L419.3 1057.9 L420.0 1058.0 L420.6 1058.2 L421.3 1058.0 L421.9 1058.1 L422.6 1058.6 L423.2 1059.0 L423.9 1058.0 L424.5 1058.3 L425.2 1058.8 L425.8 1058.0 L426.5 1058.7 L427.1 1058.9 L427.8 1058.2 L428.4 1058.2 L429.1 1058.7 L429.7 1058.8 L430.4 1057.8 L431.0 1058.4 L431.7 1058.9 L432.3 1058.2 L433.0 1057.8 L433.6 1057.7 L434.3 1058.5 L434.9 1057.9 L435.6 1058.8 L436.2 1058.5 L436.9 1058.4 L437.5 1058.6 L438.2 1058.1 L438.8 1058.3 L439.5 1057.5 L440.1 1058.2 L440.8 1057.3 L441.4 1057.2 L442.1 1056.9 L442.7 1057.2 L443.4 1056.3 L444.0 1056.0 L444.7 1055.3 L445.3 1054.3 L446.0 1052.5 L446.6 1051.0 L447.3 1049.2 L447.9 1047.1 L448.6 1044.1 L449.2 1040.4 L449.9 1037.4 L450.5 1032.7 L451.2 1026.2 L451.8 1020.5 L452.5 1013.2 L453.1 1007.6 L453.8 1003.6 L454.4 998.3 L455.1 995.4 L455.7 994.0 L456.4 990.2 L457.0 991.7 L457.7 991.7 L458.3 995.4 L459.0 999.4 L459.6 1002.4 L460.3 1008.2 L460.9 1013.1 L461.6 1018.6 L462.2 1023.1 L462.9 1028.8 L463.5 1033.0 L464.2 1037.4 L464.8 1041.1 L465.5 1045.5 L466.1 1046.9 L466.8 1050.4 L467.4 1051.8 L468.1 1053.4 L468.7 1054.3 L469.4 1055.5 L470.0 1056.0 L470.7 1056.3 L471.3 1056.7 L472.0 1056.8 L472.6 1057.2 L473.3 1057.4 L473.9 1057.7 L474.6 1057.3 L475.2 1058.5 L475.9 1058.6 L476.5 1057.7 L477.2 1058.0 L477.8 1057.8 L478.5 1058.8 L479.1 1058.8 L479.8 1057.8 L480.4 1058.7 L481.1 1059.0 L481.7 1058.7 L482.4 1058.1 L483.0 1058.1 L483.7 1058.9 L484.3 1058.4 L485.0 1058.4 L485.6 1058.3 L486.3 1058.5 L486.9 1058.4 L487.6 1058.6 L488.2 1058.8 L488.9 1058.7 L489.5 1058.4 L490.2 1059.3 L490.8 1058.4 L491.5 1058.8 L492.1 1059.2 L492.8 1059.1 L493.4 1058.8 L494.1 1059.1 L494.7 1059.4 L495.4 1059.3 L496.0 1059.4 L496.7 1059.4 L497.3 1058.9 L498.0 1059.2 L498.6 1058.8 L499.3 1058.5 L499.9 1059.0 L500.6 1059.1 L501.2 1059.0 L501.9 1058.6 L502.5 1058.7 L503.2 1058.8 L503.8 1058.0 L504.5 1058.3 L505.1 1058.3 L505.8 1057.7 L506.4 1057.7 L507.1 1057.3 L507.7 1058.4 L508.4 1058.3 L509.0 1059.1 L509.7 1058.3 L510.3 1059.0 L511.0 1059.3 L511.6 1058.7 L512.3 1058.8 L512.9 1059.2" fill="none" stroke="#222" stroke-width="1" stroke-linejoin="round"/>
<path d="M395.4 1007.4H440.0M395.4 1001.8V1013.0M440.0 1001.8V1013.0" stroke="#111" stroke-width="1" fill="none"/>
<text class="sa" x="401.0" y="995.0" font-size="17" textLength="37.5" lengthAdjust="spacingAndGlyphs">4.7%</text>
<text class="ti" transform="translate(390.8,1061.3) rotate(-90)" textLength="3.6" lengthAdjust="spacingAndGlyphs">0</text>
<text class="ti" transform="translate(390.8,1045.9) rotate(-90)" textLength="7.2" lengthAdjust="spacingAndGlyphs">50</text>
<text class="ti" transform="translate(390.8,1030.5) rotate(-90)" textLength="10.8" lengthAdjust="spacingAndGlyphs">100</text>
<text class="ti" transform="translate(390.8,1013.3) rotate(-90)" textLength="10.8" lengthAdjust="spacingAndGlyphs">150</text>
<text class="ti" transform="translate(390.8,996.1) rotate(-90)" textLength="10.8" lengthAdjust="spacingAndGlyphs">200</text>
<text class="ti" transform="translate(390.8,978.9) rotate(-90)" textLength="10.8" lengthAdjust="spacingAndGlyphs">250</text>
<text class="ti" transform="translate(386.9,1030.5) rotate(-90)" textLength="23" lengthAdjust="spacingAndGlyphs">Counts</text>
<path d="M393.5 1059.5v3.2M439.7 1059.5v3.2M485.7 1059.5v3.2" stroke="#333" stroke-width="0.9" fill="none"/>
<text class="tx" x="392.6" y="1069.4" textLength="1.9" lengthAdjust="spacingAndGlyphs">0</text>
<text class="tx" x="436.8" y="1069.4" textLength="5.7" lengthAdjust="spacingAndGlyphs">200</text>
<text class="tx" x="482.8" y="1069.4" textLength="5.7" lengthAdjust="spacingAndGlyphs">400</text>
<text class="tx" x="446.2" y="1077.2" textLength="10.4" lengthAdjust="spacingAndGlyphs">FL2-A</text>
</svg>
</body>
</html>
